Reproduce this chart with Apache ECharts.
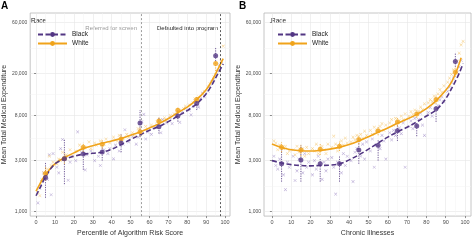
<!DOCTYPE html>
<html><head><meta charset="utf-8">
<script src="https://cdn.jsdelivr.net/npm/echarts@6/dist/echarts.min.js"></script>
<style>html,body{margin:0;padding:0;background:#fff}#c{width:474px;height:242px}</style>
</head><body><div id="c"></div>
<script>
// ---------- DATA ----------
const xTicks = [0,10,20,30,40,50,60,70,80,90,100];
const yTicks = [1000,3000,8000,20000,60000];
const deciles = [5,15,25,35,45,55,65,75,85,95];

// Panel A: percentile of algorithm risk score
const aWhiteLineX = [0,2,4,6,8,10,12,15,20,25,30,35,40,45,50,55,60,65,70,75,80,85,90,93,96,99];
const aWhiteLineY = [1550,1800,2080,2330,2580,2800,2980,3200,3550,3900,4150,4380,4600,4850,5200,5600,6100,6700,7500,8500,9600,11300,14000,17000,21500,27500];
const aBlackLineX = [0,2,4,6,8,10,12,15,20,25,30,35,40,45,50,55,60,65,70,75,80,85,90,93,96,99];
const aBlackLineY = [1400,1650,1950,2250,2550,2800,2950,3100,3300,3450,3520,3600,3850,4250,4750,5250,5800,6300,7000,7900,8900,10300,12800,15500,19500,24500];
const aWhiteDec = [2270,3150,4020,4280,4800,5620,7100,8950,11300,24700];
const aBlackDec = [2080,3120,3470,3610,4400,6800,6250,7890,10400,29300];
const aWhiteLo = [1950,2800,3600,3900,4400,5100,6500,8300,10500,21000];
const aWhiteHi = [2650,3500,4450,4700,5250,6200,7700,9600,12200,26000];
const aBlackLo = [1340,1800,2460,3000,3600,5000,5400,7000,9000,26000];
const aBlackHi = [2860,4750,4070,4570,5300,9000,7700,8950,11800,35500];
const aBlackPts = [[1,1200],[2,1650],[3,1900],[4,2300],[6,2000],[7,3400],[8,1430],[9,3500],[11,2600],[12,2300],[13,3900],[14,4750],[16,3300],[17,1960],[18,2900],[19,3300],[21,3000],[22,5600],[24,3600],[26,2450],[27,3400],[29,3700],[31,3000],[33,3300],[34,2700],[36,3800],[38,3500],[39,3900],[41,3120],[42,4200],[44,3700],[46,4300],[47,5870],[49,4500],[51,5100],[53,4300],[54,5000],[56,7000],[57,8200],[58,4800],[59,5600],[61,5300],[62,6100],[64,6500],[66,5500],[67,7300],[69,6800],[71,7600],[72,6700],[74,8000],[76,6900],[77,8500],[79,9300],[81,9000],[82,8100],[83,9800],[84,11000],[86,9600],[87,11600],[88,13000],[89,12000],[91,13600],[92,15000],[93,16500],[94,17500],[96,21000],[97,24000],[98,26000]];
const aWhitePts = [[1,1500],[2,1400],[3,2000],[4,2300],[6,2500],[7,3300],[8,2700],[9,2900],[11,2800],[12,3100],[13,3000],[14,3600],[16,3400],[18,3800],[19,3300],[21,3700],[23,4200],[24,3800],[26,4000],[28,4500],[29,3900],[31,4400],[32,4200],[34,4600],[36,4300],[37,4800],[39,4400],[41,5000],[43,4600],[44,5200],[46,4900],[48,5300],[49,5000],[51,5500],[52,5100],[54,6000],[56,5400],[58,6300],[59,5900],[61,6500],[63,6200],[64,7000],[66,7200],[68,7600],[69,7100],[71,8000],[73,8300],[74,7800],[76,9000],[78,9300],[79,9800],[81,10100],[83,10600],[84,11500],[86,12000],[88,12800],[89,13500],[91,15000],[92,16000],[94,18500],[95,19500],[97,23000],[98,26000],[99,36000]];

// Panel B: chronic illnesses
const bWhiteLineX = [0,3,6,10,15,20,25,30,35,40,45,50,55,60,65,70,75,80,85,90,93,96,98];
const bWhiteLineY = [4300,4100,3950,3800,3720,3700,3750,3850,4000,4250,4600,5050,5550,6100,6750,7400,8200,9300,11000,13800,16500,22000,28000];
const bBlackLineX = [0,5,10,15,20,25,30,35,40,45,50,55,60,65,70,75,80,85,90,94,97,99];
const bBlackLineY = [3000,2850,2750,2700,2680,2700,2720,2800,3050,3400,3850,4400,5000,5600,6200,6950,7900,9000,11500,15500,20000,24700];
const bWhiteDec = [4020,3770,3850,4100,4760,5750,6950,8250,11300,20500];
const bBlackDec = [2800,3050,2800,2800,3770,4200,5750,6380,9250,25800];
const bWhiteLo = [3600,3300,3400,3700,4300,5200,6300,7600,10300,18500];
const bWhiteHi = [4500,4300,4400,4600,5200,6300,7600,9000,12300,23000];
const bBlackLo = [1900,1900,1900,1900,2800,3000,4600,5100,6960,23000];
const bBlackHi = [4000,4200,3100,3320,4760,4760,6960,6900,9960,31000];
const bBlackPts = [[1,3300],[2,2700],[3,2500],[4,3100],[6,2200],[7,1600],[8,2900],[9,2600],[11,3300],[12,1950],[13,2400],[14,3100],[16,2300],[17,3500],[18,2600],[19,2900],[21,2200],[22,3000],[23,2500],[24,3300],[26,2000],[27,2900],[28,2400],[29,3100],[31,3200],[32,2600],[33,1450],[34,2900],[36,2300],[37,3500],[38,2700],[39,3300],[41,3000],[42,1900],[43,3600],[44,3900],[46,3300],[47,4300],[48,3100],[49,4500],[51,3700],[52,4800],[53,2600],[54,4200],[56,3900],[57,5200],[58,4600],[59,3100],[61,5500],[62,4700],[63,5800],[64,5200],[66,6100],[67,5400],[68,6800],[69,2600],[71,6300],[72,7100],[73,6000],[74,7500],[76,7300],[77,8400],[78,6500],[79,5200],[81,8500],[82,9500],[83,7900],[84,10500],[86,9900],[87,11200],[88,12000],[89,10800],[91,13500],[92,14800],[93,16500],[94,18000],[96,20500],[97,23000],[98,26500]];
const bWhitePts = [[1,4600],[2,4400],[3,3800],[4,4200],[6,3900],[7,4100],[8,3500],[9,3700],[11,3800],[12,3400],[13,4100],[14,3600],[16,3900],[17,3300],[18,4000],[19,3500],[21,3900],[22,3700],[23,4300],[24,3500],[26,4100],[27,3800],[28,3500],[29,4300],[31,4000],[32,5100],[33,4300],[34,3700],[36,4600],[37,4200],[38,4900],[39,4400],[41,4500],[42,5000],[43,4700],[44,5200],[46,5300],[47,4900],[48,5700],[49,5200],[51,5800],[52,5300],[53,6200],[54,5700],[56,6300],[57,6700],[58,5800],[59,6500],[61,6800],[62,7300],[63,6500],[64,7500],[66,7200],[67,7900],[68,7300],[69,8300],[71,7900],[72,8700],[73,8200],[74,9000],[76,8800],[77,9600],[78,9100],[79,10300],[81,10500],[82,11300],[83,10800],[84,12200],[86,12800],[87,14000],[88,13200],[89,15200],[91,16500],[92,18000],[93,19500],[94,21500],[96,26000],[97,31000],[98,37000],[99,40000]];

const refScreen = 55.7, refDefault = 97.4;

// ---------- BUILD ----------
const L = v => Math.log10(v);
const PURPLE = '#523683', ORANGE = '#f0a31a', LPURPLE = '#a592c9', LORANGE = '#f5c872';
const XSYM = 'path://M0,1L1,0L5,4L9,0L10,1L6,5L10,9L9,10L5,6L1,10L0,9L4,5Z';
const FONT = 'Liberation Sans';
const yMin = L(900), yMax = L(74000);
const majorLog = yTicks.map(L);
const minorLog = [];
for (let i = 0; i < majorLog.length - 1; i++) minorLog.push((majorLog[i] + majorLog[i+1]) / 2);
minorLog.push(majorLog[0] - (majorLog[1]-majorLog[0])/2 > yMin ? null : null);
const minorX = [5,15,25,35,45,55,65,75,85,95];

function fmt(v){ return Math.round(Math.pow(10, v)).toLocaleString('en-US'); }

function xAxis(idx, min, max){
  return {type:'value', gridIndex:idx, min:min, max:max,
    axisLine:{show:false},
    axisTick:{show:true, length:2, customValues:xTicks, lineStyle:{color:'#444', width:0.6}},
    axisLabel:{customValues:xTicks, fontSize:5.5, color:'#4d4d4d', margin:3, fontFamily:FONT},
    splitLine:{show:true, lineStyle:{color:'#e6e6e6', width:0.6}}};
}
function yAxis(idx){
  return {type:'value', gridIndex:idx, min:yMin, max:yMax,
    name:'Mean Total Medical Expenditure', nameLocation:'middle', nameGap:14,
    nameTextStyle:{fontSize:7, color:'#333', fontFamily:FONT},
    axisLine:{show:false},
    axisTick:{show:true, length:2, customValues:majorLog, lineStyle:{color:'#444', width:0.6}},
    axisLabel:{customValues:majorLog, formatter:fmt, fontSize:5, color:'#4d4d4d', margin:3, fontFamily:FONT},
    splitLine:{show:true, lineStyle:{color:'#e6e6e6', width:0.6}}};
}

function errBar(color){
  return function(params, api){
    const x = api.value(0);
    const p1 = api.coord([x, api.value(1)]);
    const p2 = api.coord([x, api.value(2)]);
    return {type:'line', shape:{x1:p1[0], y1:p1[1], x2:p2[0], y2:p2[1]},
      style:{stroke:color, lineWidth:0.8, lineDash:[1.2,1.2]}};
  };
}

function panelSeries(idx, d){
  const ax = {xAxisIndex:idx, yAxisIndex:idx};
  const minorLines = minorX.map(v => ({xAxis:v})).concat(minorLog.filter(v => v!==null).map(v => ({yAxis:v})));
  const s = [
    Object.assign({type:'scatter', name:'bpts', data:d.bPts.map(p => [p[0], L(p[1])]), symbol:XSYM, symbolSize:3.2,
      itemStyle:{color:LPURPLE, opacity:0.85}, silent:true, z:2,
      markLine:{silent:true, symbol:'none', label:{show:false}, lineStyle:{color:'#f2f2f2', width:0.5, type:'solid'}, data:minorLines, z:0}}, ax),
    Object.assign({type:'scatter', name:'wpts', data:d.wPts.map(p => [p[0], L(p[1])]), symbol:XSYM, symbolSize:3.2,
      itemStyle:{color:LORANGE, opacity:0.85}, silent:true, z:2}, ax),
    Object.assign({type:'custom', name:'berr', renderItem:errBar(PURPLE), data:deciles.map((x,i) => [x, L(d.bLo[i]), L(d.bHi[i])]), z:3, silent:true}, ax),
    Object.assign({type:'custom', name:'werr', renderItem:errBar(ORANGE), data:deciles.map((x,i) => [x, L(d.wLo[i]), L(d.wHi[i])]), z:3, silent:true}, ax),
    Object.assign({type:'line', name:'White', data:d.wLX.map((x,i) => [x, L(d.wLY[i])]), smooth:0.35, symbol:'circle', symbolSize:5, showSymbol:false,
      lineStyle:{color:ORANGE, width:1.6}, itemStyle:{color:ORANGE}, z:4}, ax),
    Object.assign({type:'line', name:'Black', data:d.bLX.map((x,i) => [x, L(d.bLY[i])]), smooth:0.35, symbol:'circle', symbolSize:5, showSymbol:false,
      lineStyle:{color:PURPLE, width:1.6, type:[5,2.5]}, itemStyle:{color:PURPLE}, z:5}, ax),
    Object.assign({type:'scatter', name:'wdec', data:deciles.map((x,i) => [x, L(d.wDec[i])]), symbol:'circle', symbolSize:5,
      itemStyle:{color:ORANGE}, z:6}, ax),
    Object.assign({type:'scatter', name:'bdec', data:deciles.map((x,i) => [x, L(d.bDec[i])]), symbol:'circle', symbolSize:5,
      itemStyle:{color:PURPLE}, z:6}, ax)
  ];
  if (d.refs) {
    s.push(Object.assign({type:'line', name:'refs', data:[], z:7, silent:true,
      markLine:{silent:true, symbol:'none', label:{show:false},
        data:[{xAxis:refScreen, lineStyle:{color:'#888', width:0.8, type:[2,2]}},
              {xAxis:refDefault, lineStyle:{color:'#333', width:0.8, type:[2,2]}}]}}, ax));
  }
  return s;
}

const series = [].concat(
  panelSeries(0, {bPts:aBlackPts, wPts:aWhitePts, bLo:aBlackLo, bHi:aBlackHi, wLo:aWhiteLo, wHi:aWhiteHi,
    wLX:aWhiteLineX, wLY:aWhiteLineY, bLX:aBlackLineX, bLY:aBlackLineY, wDec:aWhiteDec, bDec:aBlackDec, refs:true}),
  panelSeries(1, {bPts:bBlackPts, wPts:bWhitePts, bLo:bBlackLo, bHi:bBlackHi, wLo:bWhiteLo, wHi:bWhiteHi,
    wLX:bWhiteLineX, wLY:bWhiteLineY, bLX:bBlackLineX, bLY:bBlackLineY, wDec:bWhiteDec, bDec:bBlackDec})
);

const legendCommon = {orient:'vertical', itemWidth:29, itemHeight:6, itemGap:2, data:['Black','White'],
  textStyle:{fontSize:6.5, color:'#222', fontFamily:FONT}, selectedMode:false};

const option = {
  animation:false,
  backgroundColor:'#fff',
  grid:[
    {left:25, top:13, width:205, height:209, show:true, borderColor:'#b8b8b8', borderWidth:0.8},
    {left:264, top:13, width:207, height:209, show:true, borderColor:'#b8b8b8', borderWidth:0.8}
  ],
  xAxis:[
    Object.assign(xAxis(0, -3.1, 102.6), {name:'Percentile of Algorithm Risk Score', nameLocation:'middle', nameGap:12, nameTextStyle:{fontSize:7, color:'#333', fontFamily:FONT}}),
    Object.assign(xAxis(1, -4.1, 103.1), {name:'Chronic Illnesses', nameLocation:'middle', nameGap:12, nameTextStyle:{fontSize:7, color:'#333', fontFamily:FONT}})
  ],
  yAxis:[yAxis(0), yAxis(1)],
  legend:[
    Object.assign({left:32, top:26}, legendCommon),
    Object.assign({left:272, top:26}, legendCommon)
  ],
  graphic:[
    {type:'text', left:1, top:1, style:{text:'A', fontSize:10, fontWeight:'bold', fill:'#000', fontFamily:FONT}},
    {type:'text', left:239, top:1, style:{text:'B', fontSize:10, fontWeight:'bold', fill:'#000', fontFamily:FONT}},
    {type:'text', left:31, top:18, style:{text:'Race', fontSize:6.5, fill:'#222', fontFamily:FONT}},
    {type:'text', left:271, top:18, style:{text:'Race', fontSize:6.5, fill:'#222', fontFamily:FONT}},
    {type:'text', right:474-137, top:25, style:{text:'Referred for screen', fontSize:6, fill:'#999', fontFamily:FONT}},
    {type:'text', right:474-218, top:25, style:{text:'Defaulted into program', fontSize:6, fill:'#222', fontFamily:FONT}}
  ],
  series:series
};

const chart = echarts.init(document.getElementById('c'), null, {renderer:'canvas'});
chart.setOption(option);
</script></body></html>
